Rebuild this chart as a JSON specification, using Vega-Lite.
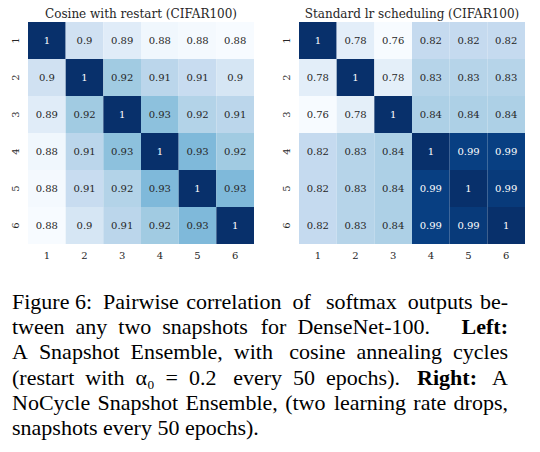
{
  "$schema": "https://vega.github.io/schema/vega-lite/v6.json",
  "background": "white",
  "padding": {"left": 10, "top": 8, "right": 0, "bottom": 0},
  "datasets": {
    "cosine": [
      {"row": 1, "col": 1, "v": 1}, {"row": 1, "col": 2, "v": 0.904}, {"row": 1, "col": 3, "v": 0.894}, {"row": 1, "col": 4, "v": 0.884}, {"row": 1, "col": 5, "v": 0.882}, {"row": 1, "col": 6, "v": 0.88},
      {"row": 2, "col": 1, "v": 0.904}, {"row": 2, "col": 2, "v": 1}, {"row": 2, "col": 3, "v": 0.924}, {"row": 2, "col": 4, "v": 0.914}, {"row": 2, "col": 5, "v": 0.909}, {"row": 2, "col": 6, "v": 0.9},
      {"row": 3, "col": 1, "v": 0.894}, {"row": 3, "col": 2, "v": 0.924}, {"row": 3, "col": 3, "v": 1}, {"row": 3, "col": 4, "v": 0.93}, {"row": 3, "col": 5, "v": 0.917}, {"row": 3, "col": 6, "v": 0.914},
      {"row": 4, "col": 1, "v": 0.884}, {"row": 4, "col": 2, "v": 0.914}, {"row": 4, "col": 3, "v": 0.93}, {"row": 4, "col": 4, "v": 1}, {"row": 4, "col": 5, "v": 0.934}, {"row": 4, "col": 6, "v": 0.924},
      {"row": 5, "col": 1, "v": 0.882}, {"row": 5, "col": 2, "v": 0.909}, {"row": 5, "col": 3, "v": 0.917}, {"row": 5, "col": 4, "v": 0.934}, {"row": 5, "col": 5, "v": 1}, {"row": 5, "col": 6, "v": 0.934},
      {"row": 6, "col": 1, "v": 0.88}, {"row": 6, "col": 2, "v": 0.9}, {"row": 6, "col": 3, "v": 0.914}, {"row": 6, "col": 4, "v": 0.924}, {"row": 6, "col": 5, "v": 0.934}, {"row": 6, "col": 6, "v": 1}
    ],
    "standard": [
      {"row": 1, "col": 1, "v": 1}, {"row": 1, "col": 2, "v": 0.784}, {"row": 1, "col": 3, "v": 0.76}, {"row": 1, "col": 4, "v": 0.821}, {"row": 1, "col": 5, "v": 0.821}, {"row": 1, "col": 6, "v": 0.821},
      {"row": 2, "col": 1, "v": 0.784}, {"row": 2, "col": 2, "v": 1}, {"row": 2, "col": 3, "v": 0.783}, {"row": 2, "col": 4, "v": 0.832}, {"row": 2, "col": 5, "v": 0.832}, {"row": 2, "col": 6, "v": 0.832},
      {"row": 3, "col": 1, "v": 0.76}, {"row": 3, "col": 2, "v": 0.783}, {"row": 3, "col": 3, "v": 1}, {"row": 3, "col": 4, "v": 0.839}, {"row": 3, "col": 5, "v": 0.839}, {"row": 3, "col": 6, "v": 0.839},
      {"row": 4, "col": 1, "v": 0.821}, {"row": 4, "col": 2, "v": 0.832}, {"row": 4, "col": 3, "v": 0.839}, {"row": 4, "col": 4, "v": 1}, {"row": 4, "col": 5, "v": 0.986}, {"row": 4, "col": 6, "v": 0.986},
      {"row": 5, "col": 1, "v": 0.821}, {"row": 5, "col": 2, "v": 0.832}, {"row": 5, "col": 3, "v": 0.839}, {"row": 5, "col": 4, "v": 0.986}, {"row": 5, "col": 5, "v": 1}, {"row": 5, "col": 6, "v": 0.991},
      {"row": 6, "col": 1, "v": 0.821}, {"row": 6, "col": 2, "v": 0.832}, {"row": 6, "col": 3, "v": 0.839}, {"row": 6, "col": 4, "v": 0.986}, {"row": 6, "col": 5, "v": 0.991}, {"row": 6, "col": 6, "v": 1}
    ],
    "caption": [
      {"line": 1, "side": "left", "slot": "body", "text": "Figure 6:\u2002Pairwise\u2004correlation\u2002of"},
      {"line": 1, "side": "right", "slot": "body", "text": "softmax\u2002outputs\u2004be-"},
      {"line": 2, "side": "left", "slot": "body", "text": "tween\u2002any\u2002two\u2002snapshots"},
      {"line": 2, "side": "right", "slot": "lead", "text": "for\u2002DenseNet-100."},
      {"line": 2, "side": "right", "slot": "label", "text": "Left:"},
      {"line": 3, "side": "left", "slot": "body", "text": "A\u2002Snapshot\u2002Ensemble,\u2002with"},
      {"line": 3, "side": "right", "slot": "body", "text": "cosine\u2002annealing\u2002cycles"},
      {"line": 4, "side": "left", "slot": "body", "text": "(restart\u2002with\u2002α₀\u2002=\u20020.2"},
      {"line": 4, "side": "right", "slot": "lead", "text": "every\u200250\u2002epochs)."},
      {"line": 4, "side": "right", "slot": "label", "text": "Right:"},
      {"line": 4, "side": "right", "slot": "body", "text": "A"},
      {"line": 5, "side": "left", "slot": "body", "text": "NoCycle\u2004Snapshot\u2004Ensemble,\u2004(two"},
      {"line": 5, "side": "right", "slot": "body", "text": "learning\u2004rate\u2004drops,"},
      {"line": 6, "side": "left", "slot": "body", "text": "snapshots every 50 epochs)."}
    ]
  },
  "config": {
    "view": {"stroke": null},
    "axis": {
      "domain": false, "ticks": false, "grid": false, "title": null,
      "labelFont": "DejaVu Serif", "labelFontSize": 10, "labelColor": "#262626"
    },
    "title": {"font": "DejaVu Serif", "fontSize": 12, "fontWeight": "normal", "color": "#262626", "offset": 1}
  },
  "spacing": 30,
  "vconcat": [
    {
      "spacing": 27,
      "resolve": {"scale": {"color": "independent"}},
      "hconcat": [
        {
          "title": "Cosine with restart (CIFAR100)",
          "data": {"name": "cosine"},
          "width": 226,
          "height": 222,
          "encoding": {
            "x": {"field": "col", "type": "ordinal", "axis": {"labelAngle": 0, "labelPadding": 6}},
            "y": {"field": "row", "type": "ordinal", "axis": {"labelAngle": -90, "labelPadding": 8}}
          },
          "layer": [
            {
              "mark": "rect",
              "encoding": {
                "color": {
                  "field": "v", "type": "quantitative", "legend": null,
                  "scale": {
                    "domain": [0.88, 1], "interpolate": "rgb",
                    "range": ["#f7fbff", "#deebf7", "#c6dbef", "#9ecae1", "#6baed6", "#4292c6", "#2171b5", "#08519c", "#08306b"]
                  }
                }
              }
            },
            {
              "mark": {"type": "text", "font": "DejaVu Serif", "fontSize": 10},
              "encoding": {
                "text": {"field": "v", "type": "quantitative", "format": ".2~g"},
                "color": {"condition": {"test": "datum.v >= 0.98", "value": "white"}, "value": "#262626"}
              }
            }
          ]
        },
        {
          "title": "Standard lr scheduling (CIFAR100)",
          "data": {"name": "standard"},
          "width": 226,
          "height": 222,
          "encoding": {
            "x": {"field": "col", "type": "ordinal", "axis": {"labelAngle": 0, "labelPadding": 6}},
            "y": {"field": "row", "type": "ordinal", "axis": {"labelAngle": -90, "labelPadding": 8}}
          },
          "layer": [
            {
              "mark": "rect",
              "encoding": {
                "color": {
                  "field": "v", "type": "quantitative", "legend": null,
                  "scale": {
                    "domain": [0.76, 1], "interpolate": "rgb",
                    "range": ["#f7fbff", "#deebf7", "#c6dbef", "#9ecae1", "#6baed6", "#4292c6", "#2171b5", "#08519c", "#08306b"]
                  }
                }
              }
            },
            {
              "mark": {"type": "text", "font": "DejaVu Serif", "fontSize": 10},
              "encoding": {
                "text": {"field": "v", "type": "quantitative", "format": ".2~g"},
                "color": {"condition": {"test": "datum.v >= 0.98", "value": "white"}, "value": "#262626"}
              }
            }
          ]
        }
      ]
    },
    {
      "data": {"name": "caption"},
      "width": 496,
      "height": 152,
      "encoding": {
        "x": {"field": "side", "type": "nominal", "axis": null, "scale": {"type": "point", "domain": ["left", "right"], "padding": 0}},
        "y": {"field": "line", "type": "ordinal", "axis": null, "scale": {"type": "point", "padding": 0.5}},
        "text": {"field": "text"}
      },
      "layer": [
        {
          "transform": [{"filter": "datum.side == 'left' && datum.slot == 'body'"}],
          "mark": {"type": "text", "font": "Liberation Serif", "fontSize": 22, "color": "black", "align": "left", "baseline": "alphabetic", "dx": -16}
        },
        {
          "transform": [{"filter": "datum.side == 'right' && datum.slot == 'body'"}],
          "mark": {"type": "text", "font": "Liberation Serif", "fontSize": 22, "color": "black", "align": "right", "baseline": "alphabetic", "dx": -16}
        },
        {
          "transform": [{"filter": "datum.slot == 'lead' && datum.line == 2"}],
          "mark": {"type": "text", "font": "Liberation Serif", "fontSize": 22, "color": "black", "align": "right", "baseline": "alphabetic", "dx": -94}
        },
        {
          "transform": [{"filter": "datum.slot == 'lead' && datum.line == 4"}],
          "mark": {"type": "text", "font": "Liberation Serif", "fontSize": 22, "color": "black", "align": "right", "baseline": "alphabetic", "dx": -124}
        },
        {
          "transform": [{"filter": "datum.slot == 'label' && datum.line == 2"}],
          "mark": {"type": "text", "font": "Liberation Serif", "fontSize": 22, "fontWeight": "bold", "color": "black", "align": "right", "baseline": "alphabetic", "dx": -16}
        },
        {
          "transform": [{"filter": "datum.slot == 'label' && datum.line == 4"}],
          "mark": {"type": "text", "font": "Liberation Serif", "fontSize": 22, "fontWeight": "bold", "color": "black", "align": "right", "baseline": "alphabetic", "dx": -47}
        }
      ]
    }
  ]
}
